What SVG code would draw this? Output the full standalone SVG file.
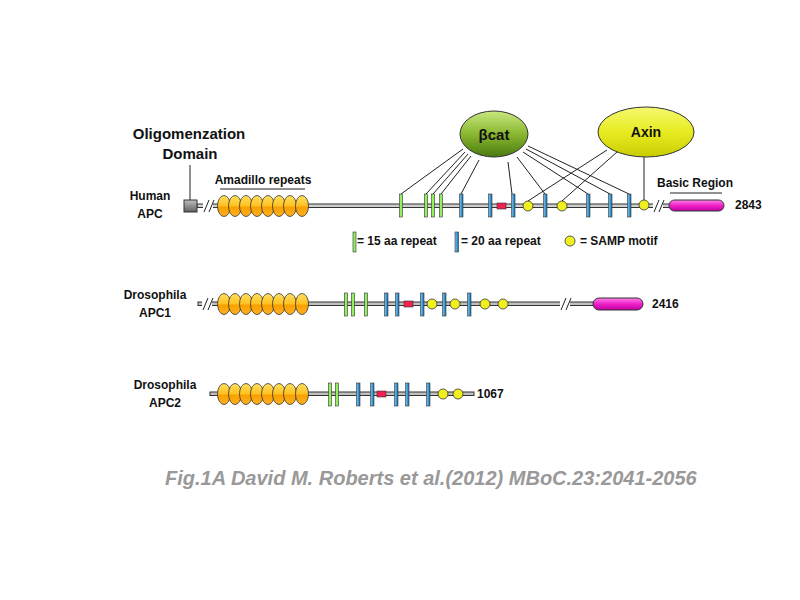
<svg xmlns="http://www.w3.org/2000/svg" width="800" height="600" viewBox="0 0 800 600">
<defs>
<linearGradient id="orange" x1="0" y1="0" x2="0" y2="1"><stop offset="0" stop-color="#ffe060"/><stop offset="0.5" stop-color="#ffc020"/><stop offset="0.55" stop-color="#f8a000"/><stop offset="1" stop-color="#ffb020"/></linearGradient>
<linearGradient id="green" x1="0" y1="0" x2="0" y2="1"><stop offset="0" stop-color="#c8e880"/><stop offset="0.5" stop-color="#8ab830"/><stop offset="1" stop-color="#4a7a10"/></linearGradient>
<linearGradient id="yel" x1="0" y1="0" x2="0" y2="1"><stop offset="0" stop-color="#f4f870"/><stop offset="0.5" stop-color="#e8ec20"/><stop offset="1" stop-color="#c8cc00"/></linearGradient>
<linearGradient id="pink" x1="0" y1="0" x2="0" y2="1"><stop offset="0" stop-color="#ff80e8"/><stop offset="0.5" stop-color="#f020c8"/><stop offset="1" stop-color="#c000a0"/></linearGradient>
<linearGradient id="blue" x1="0" y1="0" x2="1" y2="0"><stop offset="0" stop-color="#80c8f0"/><stop offset="1" stop-color="#1070b0"/></linearGradient>
<linearGradient id="gray" x1="0" y1="0" x2="0" y2="1"><stop offset="0" stop-color="#c0c0c0"/><stop offset="1" stop-color="#606060"/></linearGradient>
</defs>
<style>
.t{font-family:"Liberation Sans",Arial,sans-serif;font-weight:bold;fill:#111}
.bb{fill:#d0d0d0;stroke:#333;stroke-width:1}
.ar{fill:url(#orange);stroke:#333;stroke-width:0.8}
.g{fill:#90f060;stroke:#333;stroke-width:0.6}
.b{fill:url(#blue);stroke:#333;stroke-width:0.6}
.r{fill:#f02050;stroke:#333;stroke-width:0.6}
.s{fill:#f0f020;stroke:#333;stroke-width:0.8}
.c{stroke:#222;stroke-width:1;fill:none}
.brk{stroke:#222;stroke-width:1;fill:none}
</style>
<rect width="800" height="600" fill="#fff"/>

<g id="connectors">
<line class="c" x1="190" y1="165" x2="190" y2="200"/>
<line class="c" x1="463" y1="149" x2="401" y2="194"/>
<line class="c" x1="465" y1="152" x2="426" y2="194"/>
<line class="c" x1="468" y1="154" x2="433" y2="194"/>
<line class="c" x1="471" y1="156" x2="441" y2="194"/>
<line class="c" x1="479" y1="160" x2="461" y2="194"/>
<line class="c" x1="508" y1="162" x2="512" y2="194"/>
<line class="c" x1="517" y1="157" x2="545" y2="194"/>
<line class="c" x1="523" y1="152" x2="588" y2="194"/>
<line class="c" x1="526" y1="149" x2="610" y2="194"/>
<line class="c" x1="528" y1="146" x2="629" y2="194"/>
<line class="c" x1="607" y1="150" x2="528" y2="201"/>
<line class="c" x1="617" y1="152" x2="562" y2="201"/>
<line class="c" x1="644" y1="157" x2="644" y2="200"/>
<line class="c" x1="220" y1="189" x2="305" y2="189"/>
<line class="c" x1="670" y1="193" x2="722" y2="193"/>
</g>

<g id="oligo-label">
<text class="t" x="189" y="139" font-size="15" text-anchor="middle">Oligomenzation</text>
<text class="t" x="190" y="159" font-size="15" text-anchor="middle">Domain</text>
</g>
<text class="t" x="263" y="184" font-size="12" text-anchor="middle">Amadillo repeats</text>
<text class="t" x="695" y="187" font-size="12" text-anchor="middle">Basic  Region</text>

<g id="bcat"><ellipse cx="494" cy="134" rx="34" ry="23" fill="url(#green)" stroke="#333"/><text class="t" x="494" y="140" font-size="15" text-anchor="middle">βcat</text></g>
<g id="axin"><ellipse cx="646" cy="132" rx="48" ry="25" fill="url(#yel)" stroke="#333"/><text class="t" x="646" y="137" font-size="14" text-anchor="middle">Axin</text></g>

<g id="human-apc">
<text class="t" x="150" y="200" font-size="12" text-anchor="middle">Human</text>
<text class="t" x="150" y="218" font-size="12" text-anchor="middle">APC</text>
<rect class="bb" x="197" y="204" width="473" height="3.5" fill="#c0c0c0"/>
<rect x="184" y="200" width="13" height="12" fill="url(#gray)" stroke="#333"/>
<rect x="203" y="200" width="10" height="12" fill="#fff"/>
<path class="brk" d="M204 212 L209 200 M209 212 L214 200"/>
<rect x="653" y="200" width="10" height="12" fill="#fff"/>
<path class="brk" d="M654 212 L659 200 M659 212 L664 200"/>
<g class="ar">
<ellipse cx="224" cy="206" rx="6.5" ry="10.5"/><ellipse cx="235" cy="206" rx="6.5" ry="10.5"/><ellipse cx="246" cy="206" rx="6.5" ry="10.5"/><ellipse cx="257" cy="206" rx="6.5" ry="10.5"/><ellipse cx="268" cy="206" rx="6.5" ry="10.5"/><ellipse cx="279" cy="206" rx="6.5" ry="10.5"/><ellipse cx="290" cy="206" rx="6.5" ry="10.5"/><ellipse cx="302" cy="206" rx="6.5" ry="10.5"/>
</g>
<g class="g"><rect x="399.5" y="194" width="3" height="23"/><rect x="424.5" y="194" width="3" height="23"/><rect x="431.5" y="194" width="3" height="23"/><rect x="439.5" y="194" width="3" height="23"/></g>
<g class="b"><rect x="459.5" y="194" width="3.5" height="23"/><rect x="488.5" y="194" width="3.5" height="23"/><rect x="511.5" y="194" width="3.5" height="23"/><rect x="543.5" y="194" width="3.5" height="23"/><rect x="586.5" y="194" width="3.5" height="23"/><rect x="608.5" y="194" width="3.5" height="23"/><rect x="627.5" y="194" width="3.5" height="23"/></g>
<rect class="r" x="497" y="203" width="9" height="6"/>
<g class="s"><circle cx="528" cy="206" r="5"/><circle cx="562" cy="206" r="5"/><circle cx="644" cy="205" r="5"/></g>
<rect x="669" y="200" width="55" height="11" rx="5.5" fill="url(#pink)" stroke="#333"/>
<text class="t" x="735" y="209" font-size="12">2843</text>
</g>

<g id="legend">
<rect class="g" x="353" y="232" width="3" height="20"/>
<text class="t" x="357" y="245" font-size="12">= 15 aa repeat</text>
<rect class="b" x="455" y="232" width="3.5" height="20"/>
<text class="t" x="461" y="245" font-size="12">= 20 aa repeat</text>
<circle class="s" cx="570" cy="241" r="5"/>
<text class="t" x="580" y="245" font-size="12">= SAMP motif</text>
</g>

<g id="dapc1">
<text class="t" x="155" y="299" font-size="12" text-anchor="middle">Drosophila</text>
<text class="t" x="155" y="317" font-size="12" text-anchor="middle">APC1</text>
<rect x="198" y="302" width="396" height="3.5" fill="#c0c0c0" stroke="#333"/>
<rect x="202" y="298" width="10" height="12" fill="#fff"/>
<path class="brk" d="M203 310 L208 298 M208 310 L213 298"/>
<rect x="560" y="298" width="10" height="12" fill="#fff"/>
<path class="brk" d="M561 310 L566 298 M566 310 L571 298"/>
<g class="ar">
<ellipse cx="224" cy="304" rx="6.5" ry="10.5"/><ellipse cx="235" cy="304" rx="6.5" ry="10.5"/><ellipse cx="246" cy="304" rx="6.5" ry="10.5"/><ellipse cx="257" cy="304" rx="6.5" ry="10.5"/><ellipse cx="268" cy="304" rx="6.5" ry="10.5"/><ellipse cx="279" cy="304" rx="6.5" ry="10.5"/><ellipse cx="290" cy="304" rx="6.5" ry="10.5"/><ellipse cx="302" cy="304" rx="6.5" ry="10.5"/>
</g>
<g class="g"><rect x="344.5" y="293" width="3" height="23"/><rect x="351.5" y="293" width="3" height="23"/><rect x="364.5" y="293" width="3" height="23"/></g>
<g class="b"><rect x="384.5" y="293" width="3.5" height="23"/><rect x="395.5" y="293" width="3.5" height="23"/><rect x="420.5" y="293" width="3.5" height="23"/><rect x="442.5" y="293" width="3.5" height="23"/><rect x="467.5" y="293" width="3.5" height="23"/></g>
<rect class="r" x="404" y="301" width="9" height="6"/>
<g class="s"><circle cx="432" cy="304" r="5"/><circle cx="455" cy="304" r="5"/><circle cx="485" cy="304" r="5"/><circle cx="503" cy="304" r="5"/></g>
<rect x="593" y="298" width="50" height="12" rx="6" fill="url(#pink)" stroke="#333"/>
<text class="t" x="652" y="308" font-size="12">2416</text>
</g>

<g id="dapc2">
<text class="t" x="165" y="389" font-size="12" text-anchor="middle">Drosophila</text>
<text class="t" x="165" y="407" font-size="12" text-anchor="middle">APC2</text>
<rect x="210" y="392" width="264" height="3.5" fill="#c0c0c0" stroke="#333"/>
<g class="ar">
<ellipse cx="224" cy="394" rx="6.5" ry="10.5"/><ellipse cx="235" cy="394" rx="6.5" ry="10.5"/><ellipse cx="246" cy="394" rx="6.5" ry="10.5"/><ellipse cx="257" cy="394" rx="6.5" ry="10.5"/><ellipse cx="268" cy="394" rx="6.5" ry="10.5"/><ellipse cx="279" cy="394" rx="6.5" ry="10.5"/><ellipse cx="290" cy="394" rx="6.5" ry="10.5"/><ellipse cx="302" cy="394" rx="6.5" ry="10.5"/>
</g>
<g class="g"><rect x="328.5" y="383" width="3" height="23"/><rect x="335.5" y="383" width="3" height="23"/></g>
<g class="b"><rect x="356.5" y="383" width="3.5" height="23"/><rect x="370.5" y="383" width="3.5" height="23"/><rect x="394.5" y="383" width="3.5" height="23"/><rect x="405.5" y="383" width="3.5" height="23"/><rect x="426.5" y="383" width="3.5" height="23"/></g>
<rect class="r" x="377" y="391" width="9" height="6"/>
<g class="s"><circle cx="443" cy="394" r="5"/><circle cx="458" cy="394" r="5"/></g>
<text class="t" x="477" y="398" font-size="12">1067</text>
</g>

<text x="165" y="485" font-family="Liberation Sans,Arial,sans-serif" font-weight="bold" font-style="italic" font-size="20" fill="#999">Fig.1A David M. Roberts et al.(2012) MBoC.23:2041-2056</text>
</svg>
